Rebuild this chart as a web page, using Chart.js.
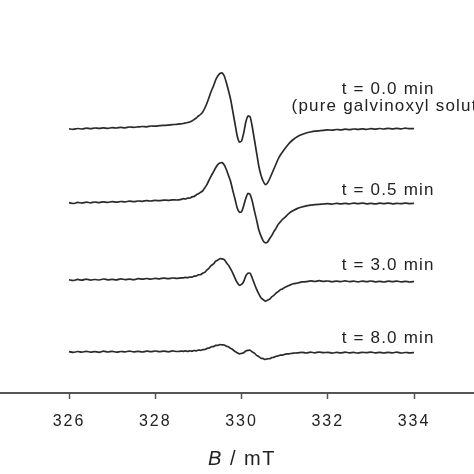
<!DOCTYPE html>
<html>
<head>
<meta charset="utf-8">
<script src="https://cdn.jsdelivr.net/npm/chart.js@4.4.0/dist/chart.umd.min.js"></script>
<style>
    html, body { margin: 0; padding: 0; background: #fff; }
    #wrap { width: 474px; height: 474px; }
</style>
</head>
<body>
<div id="wrap"><canvas id="EprChart"></canvas></div>
<script>
// magnetic field, mT
const field_B = [
    326.0, 326.1, 326.2, 326.3, 326.4, 326.5, 326.6, 326.7, 326.8, 326.9,
    327.0, 327.1, 327.2, 327.3, 327.4, 327.5, 327.6, 327.7, 327.8, 327.9,
    328.0, 328.1, 328.2, 328.3, 328.4, 328.5, 328.6,
    328.65, 328.70, 328.75, 328.80, 328.85, 328.90, 328.95, 329.00, 329.05, 329.10,
    329.15, 329.20, 329.25, 329.30, 329.35, 329.40, 329.45, 329.50, 329.55, 329.60,
    329.65, 329.70, 329.75, 329.80, 329.85, 329.90, 329.95, 330.00, 330.05, 330.10,
    330.15, 330.20, 330.25, 330.30, 330.35, 330.40, 330.45, 330.50, 330.55, 330.60,
    330.65, 330.70, 330.75, 330.80, 330.85, 330.90, 330.95, 331.00,
    331.1, 331.2, 331.3, 331.4, 331.5, 331.6, 331.7, 331.8, 331.9, 332.0,
    332.1, 332.2, 332.3, 332.4, 332.5, 332.6, 332.7, 332.8, 332.9, 333.0,
    333.1, 333.2, 333.3, 333.4, 333.5, 333.6, 333.7, 333.8, 333.9, 334.0
];

// EPR signal (arb. units, stacked)
const signal_t0 = [
    264.2, 263.6, 264.5, 264.0, 264.8, 264.3, 265.0, 264.6, 265.2, 264.7,
    265.3, 265.0, 265.6, 265.2, 266.0, 265.7, 266.1, 266.5, 266.2, 267.0,
    266.8, 267.3, 267.6, 267.9, 268.4, 268.6, 269.2,
    269.5, 270.0, 270.5, 271.0, 272.0, 273.5, 275.0, 277.0, 278.5, 281.0,
    285.0, 290.0, 296.0, 302.0, 307.0, 313.0, 317.0, 319.5, 320.0, 317.0,
    310.0, 302.0, 293.0, 281.0, 269.0, 257.0, 251.0, 252.0, 260.0, 271.0,
    277.0, 276.0, 266.0, 253.0, 240.0, 227.0, 218.0, 212.0, 208.5, 210.0,
    214.0, 219.0, 224.0, 229.0, 234.0, 238.0, 241.0, 244.0,
    249.5, 253.5, 256.5, 258.5, 260.0, 261.0, 261.8, 262.2, 262.6, 263.2,
    262.8, 263.5, 263.1, 263.8, 263.3, 264.0, 263.6, 264.2, 263.7, 264.3,
    263.9, 264.5, 264.0, 264.6, 264.1, 264.7, 264.2, 264.8, 264.3, 264.5
];

const signal_t05 = [
    190.3, 189.5, 190.6, 189.9, 190.8, 190.2, 191.0, 190.4, 191.2, 190.6,
    191.4, 190.9, 191.5, 191.1, 191.9, 191.4, 192.0, 191.7, 192.4, 192.0,
    192.6, 192.3, 192.9, 192.7, 193.2, 193.0, 193.6,
    194.3, 194.0, 194.9, 195.0, 196.1, 196.6, 198.1, 199.2, 200.7, 202.1,
    205.3, 208.6, 213.1, 217.3, 221.2, 225.2, 228.4, 229.9, 230.4, 228.0,
    223.3, 217.2, 211.1, 202.0, 193.8, 184.9, 180.8, 181.2, 187.3, 194.8,
    199.6, 198.4, 191.6, 181.9, 172.9, 163.2, 157.1, 152.4, 150.2, 150.9,
    154.2, 157.4, 161.4, 164.6, 168.6, 171.1, 173.6, 175.4,
    179.6, 182.4, 184.6, 186.0, 187.1, 187.8, 188.4, 188.7, 189.0, 189.4,
    188.9, 189.6, 189.1, 189.7, 189.2, 189.8, 189.3, 189.9, 189.2, 189.7,
    189.1, 189.8, 189.3, 189.9, 189.2, 189.7, 189.3, 189.8, 189.4, 189.6
];

const signal_t3 = [
    113.2, 112.5, 113.6, 112.8, 113.9, 112.9, 113.5, 113.0, 114.0, 113.2,
    113.7, 113.1, 114.1, 113.4, 113.9, 113.3, 114.3, 113.8, 114.5, 113.9,
    114.6, 114.2, 114.9, 114.4, 115.0, 114.6, 115.2,
    115.1, 115.6, 115.3, 116.0, 115.8, 116.9, 117.0, 118.2, 118.3, 119.8,
    120.8, 123.1, 125.0, 127.6, 129.1, 131.8, 132.9, 134.3, 134.1, 133.3,
    130.3, 127.6, 123.8, 119.7, 114.7, 110.5, 107.8, 108.6, 111.3, 117.2,
    119.8, 119.7, 114.8, 109.0, 103.7, 99.1, 95.3, 93.4, 91.8, 92.7,
    93.8, 96.1, 97.6, 99.9, 101.4, 103.3, 104.1, 105.6,
    107.5, 109.2, 110.0, 111.1, 111.3, 112.1, 111.5, 112.3, 111.6, 112.0,
    111.2, 111.9, 111.4, 112.2, 111.3, 111.8, 111.1, 111.9, 111.4, 112.0,
    111.2, 111.7, 111.0, 111.8, 111.3, 111.9, 111.2, 111.6, 111.0, 111.5
];

const signal_t8 = [
    41.3, 40.6, 41.5, 40.8, 41.7, 40.9, 41.4, 40.7, 41.8, 41.0,
    41.6, 40.8, 41.5, 41.1, 41.9, 41.2, 41.7, 41.0, 41.8, 41.3,
    42.0, 41.4, 41.9, 41.2, 42.1, 41.5, 41.9,
    41.7, 42.1, 41.6, 42.2, 41.8, 42.5, 42.2, 42.9, 42.7, 43.4,
    43.5, 44.6, 45.0, 46.2, 46.4, 47.6, 47.7, 48.4, 48.1, 48.0,
    46.8, 46.0, 44.6, 43.3, 41.5, 40.3, 39.1, 39.6, 40.3, 42.1,
    42.6, 42.8, 41.1, 39.8, 37.7, 36.4, 34.8, 34.4, 33.6, 34.2,
    34.3, 35.4, 35.6, 36.7, 37.0, 37.9, 37.9, 38.7,
    39.2, 39.9, 40.1, 40.7, 40.0, 40.8, 40.2, 40.9, 40.3, 40.7,
    39.9, 40.6, 40.1, 40.8, 40.2, 40.6, 39.9, 40.7, 40.3, 40.9,
    40.1, 40.6, 40.0, 40.7, 40.2, 40.8, 40.0, 40.5, 40.1, 40.4
];

const tick_B = [326, 328, 330, 332, 334];

// text labels next to each trace, anchored in data units
const trace_labels = [
    { text: 't = 0.0 min', x: 333.4, y: 304, align: 'center' },
    { text: '(pure galvinoxyl solution)', x: 331.16, y: 287, align: 'left' },
    { text: 't = 0.5 min', x: 333.4, y: 203, align: 'center' },
    { text: 't = 3.0 min', x: 333.4, y: 128, align: 'center' },
    { text: 't = 8.0 min', x: 333.4, y: 55, align: 'center' }
];

const traceColor = '#2a2a2a';

function toPoints(vals) {
    return field_B.map((b, i) => ({ x: b, y: vals[i] }));
}

function traceSet(vals) {
    return {
        data: toPoints(vals),
        borderColor: traceColor,
        borderWidth: 1.7,
        pointRadius: 0,
        tension: 0.2,
        fill: false
    };
}

const textPlugin = {
    id: 'textPlugin',
    beforeDraw(chart) {
        chart.ctx.letterSpacing = '2px';
    },
    beforeDatasetsDraw(chart) {
        chart.ctx.letterSpacing = '0px';
    },
    afterDraw(chart) {
        const ctx = chart.ctx;
        const xs = chart.scales.x;
        const ys = chart.scales.y;
        ctx.save();
        ctx.fillStyle = '#222';
        ctx.textBaseline = 'middle';
        ctx.letterSpacing = '1.2px';
        ctx.font = '17px "Liberation Sans", Arial, sans-serif';
        trace_labels.forEach(l => {
            ctx.textAlign = l.align;
            ctx.fillText(l.text, xs.getPixelForValue(l.x), ys.getPixelForValue(l.y));
        });

        // axis title: italic B, upright unit
        ctx.letterSpacing = '1.5px';
        ctx.textAlign = 'left';
        const fItal = 'italic 20px "Liberation Sans", Arial, sans-serif';
        const fNorm = '20px "Liberation Sans", Arial, sans-serif';
        ctx.font = fItal;
        const w1 = ctx.measureText('B').width;
        ctx.font = fNorm;
        const w2 = ctx.measureText(' / mT').width;
        const x0 = 242 - (w1 + w2) / 2;
        const yT = 459;
        ctx.font = fItal;
        ctx.fillText('B', x0, yT);
        ctx.font = fNorm;
        ctx.fillText(' / mT', x0 + w1, yT);
        ctx.restore();
    }
};

const config_Epr = {
    type: 'line',
    data: {
        datasets: [
            traceSet(signal_t0),
            traceSet(signal_t05),
            traceSet(signal_t3),
            traceSet(signal_t8)
        ]
    },
    options: {
        responsive: true,
        maintainAspectRatio: false,
        animation: false,
        layout: { padding: 0 },
        plugins: {
            legend: { display: false },
            tooltip: { enabled: false }
        },
        scales: {
            x: {
                type: 'linear',
                min: 324.4,
                max: 335.39,
                afterBuildTicks: s => { s.ticks = tick_B.map(v => ({ value: v })); },
                afterFit: s => { s.height = 81; },
                grid: {
                    drawOnChartArea: false,
                    drawTicks: true,
                    tickLength: 6,
                    tickWidth: 1.5,
                    tickColor: '#555'
                },
                border: { display: true, color: '#555', width: 2 },
                ticks: {
                    color: '#222',
                    padding: 13,
                    maxRotation: 0,
                    font: { family: '"Liberation Sans", Arial, sans-serif', size: 16 }
                }
            },
            y: {
                display: false,
                min: 0,
                max: 393
            }
        }
    },
    plugins: [textPlugin]
};

const myChart_Epr = new Chart(
    document.getElementById('EprChart'),
    config_Epr
);
</script>
</body>
</html>
